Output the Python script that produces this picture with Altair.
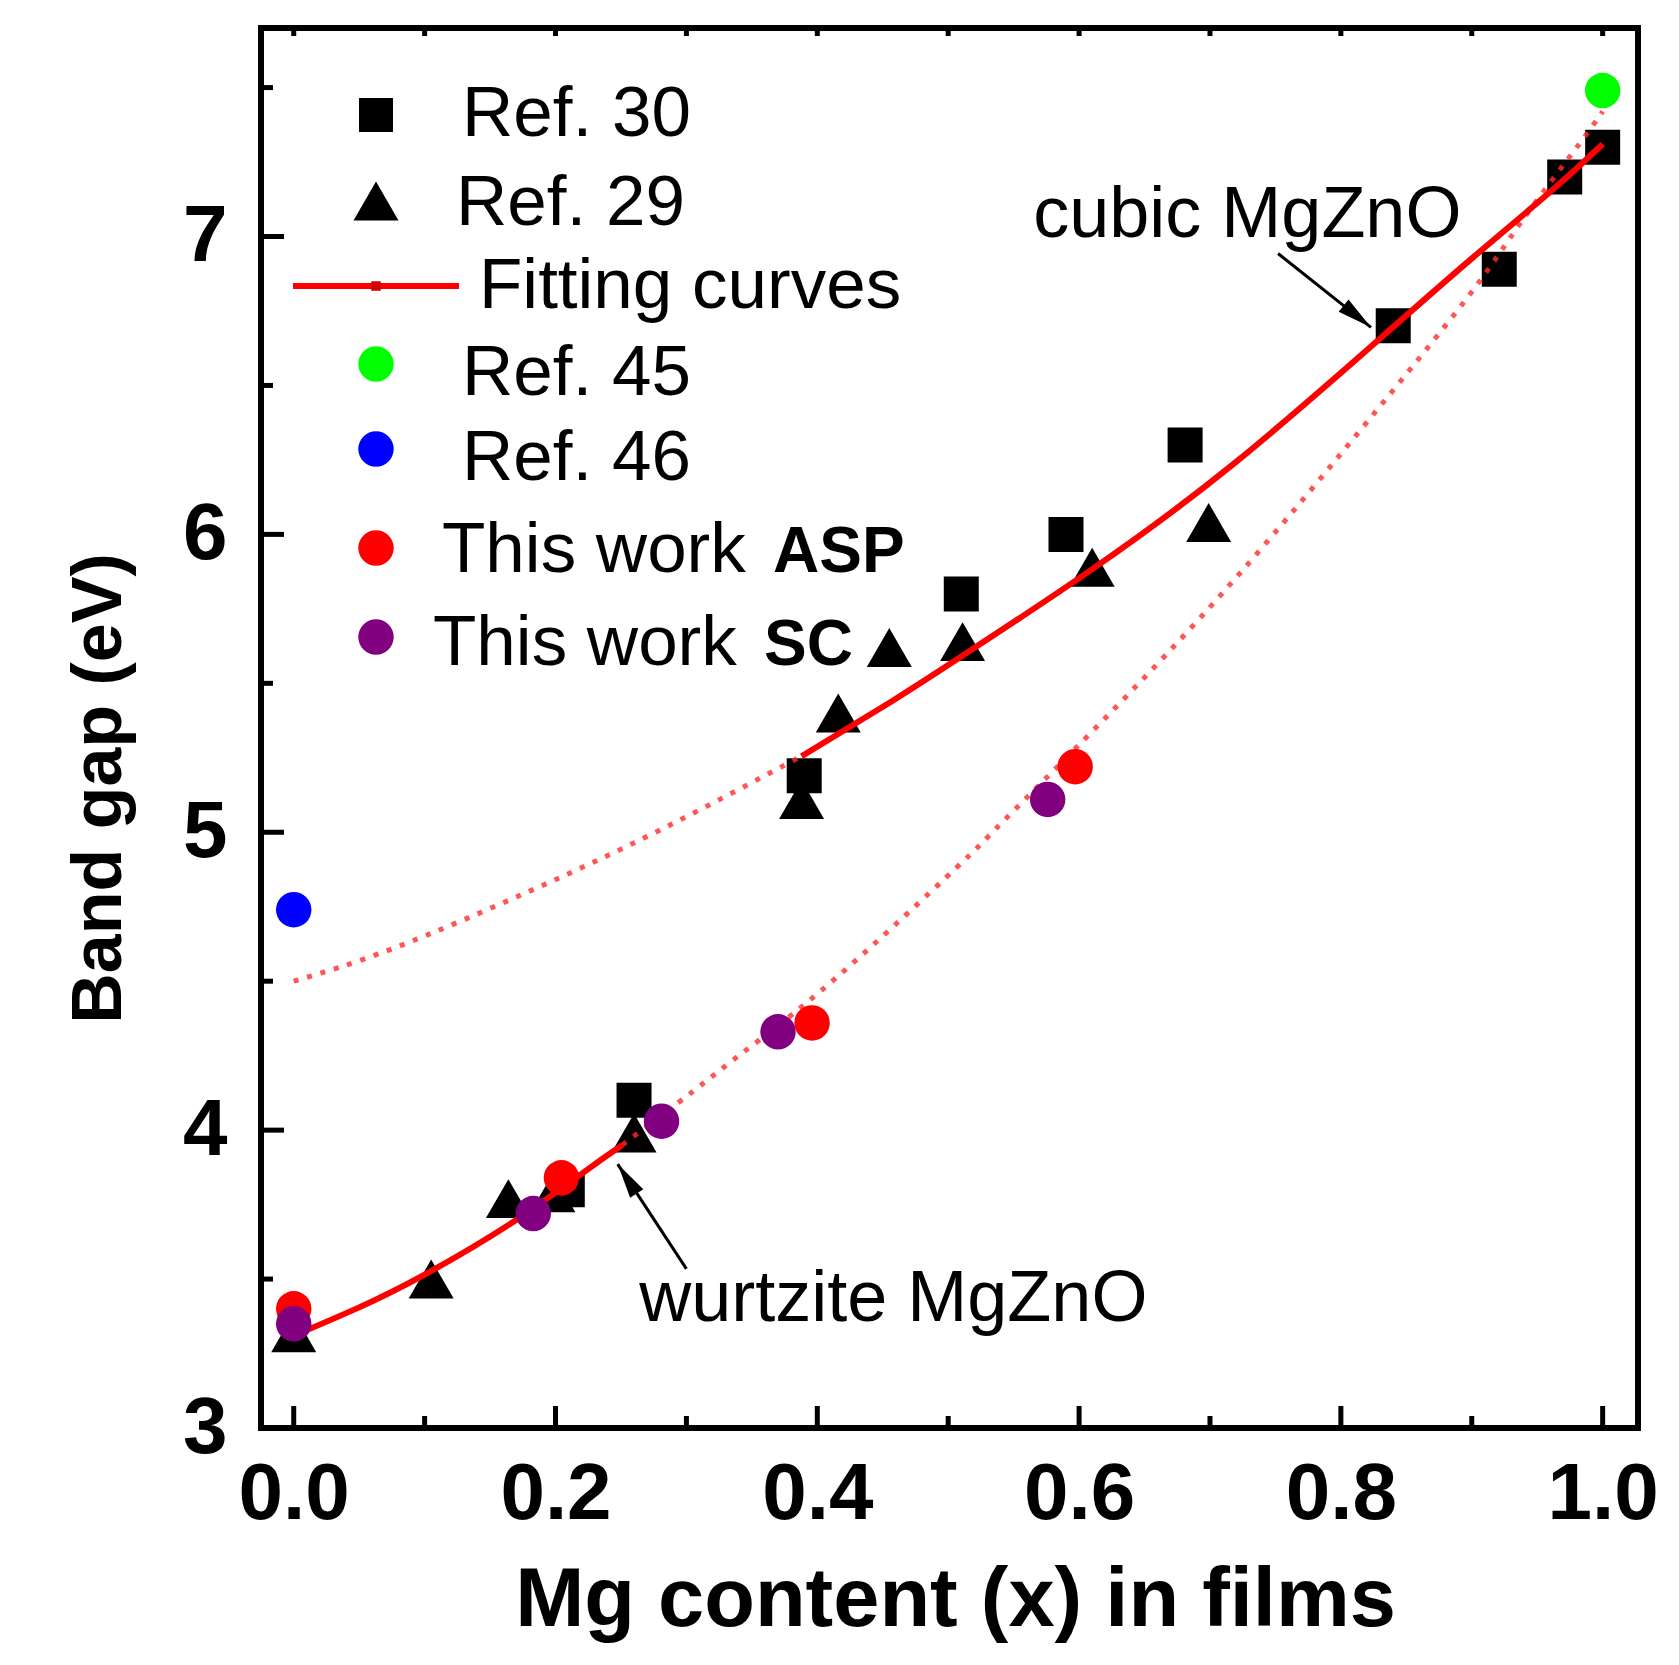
import altair as alt
import pandas as pd

# ---------------- data ----------------
ref30_x = [0.209, 0.26, 0.39, 0.51, 0.59, 0.681, 0.84, 0.921, 0.971, 1.0]
ref30_y = [3.80, 4.10, 5.19, 5.80, 6.00, 6.30, 6.70, 6.89, 7.20, 7.30]

ref29_x = [0.0, 0.105, 0.164, 0.198, 0.26, 0.388, 0.416, 0.455, 0.511, 0.610, 0.699]
ref29_y = [3.32, 3.50, 3.77, 3.79, 3.99, 5.11, 5.40, 5.62, 5.64, 5.89, 6.04]

ref45_x = [1.0]
ref45_y = [7.49]
ref46_x = [0.0]
ref46_y = [4.74]

asp_x = [0.0, 0.2045, 0.396, 0.597]
asp_y = [3.40, 3.84, 4.36, 5.22]
sc_x = [0.0, 0.183, 0.281, 0.370, 0.576]
sc_y = [3.35, 3.72, 4.03, 4.33, 5.11]

wurtz_solid_x = [0.0, 0.05, 0.10, 0.167, 0.222, 0.251]
wurtz_solid_y = [3.31, 3.405, 3.515, 3.69, 3.86, 3.95]
wurtz_dot_x = [0.251, 0.305, 0.343, 0.414, 0.506, 0.536, 0.617, 0.719, 0.828, 0.901, 0.938, 0.982, 1.0]
wurtz_dot_y = [3.95, 4.13, 4.26, 4.51, 4.88, 5.01, 5.37, 5.85, 6.42, 6.82, 7.05, 7.31, 7.42]

cubic_dot_x = [0.0, 0.076, 0.179, 0.281, 0.377, 0.388]
cubic_dot_y = [4.50, 4.61, 4.80, 5.01, 5.23, 5.255]
cubic_solid_x = [0.388, 0.457, 0.51, 0.609, 0.719, 0.828, 0.901, 0.96, 1.0]
cubic_solid_y = [5.255, 5.44, 5.59, 5.88, 6.24, 6.65, 6.93, 7.15, 7.31]

x_major = [0.0, 0.2, 0.4, 0.6, 0.8, 1.0]
x_minor = [0.1, 0.3, 0.5, 0.7, 0.9]
x_top = [0.0, 0.1, 0.2, 0.3, 0.4, 0.5, 0.6, 0.7, 0.8, 0.9, 1.0]
y_major = [3, 4, 5, 6, 7]
y_minor = [3.5, 4.5, 5.5, 6.5, 7.5]

legend_labels = ["Ref. 30", "Ref. 29", "Fitting curves", "Ref. 45", "Ref. 46", "This work", "This work"]
legend_bold = ["ASP", "SC"]

ann_cubic = {"x": [0.565], "y": [6.998], "t": ["cubic MgZnO"]}
ann_wurtz = {"x": [0.264], "y": [3.359], "t": ["wurtzite MgZnO"]}
arrow_cubic = {"x1": [0.752], "y1": [6.943], "x2": [0.823], "y2": [6.695]}
arrow_wurtz = {"x1": [0.300], "y1": [3.534], "x2": [0.2475], "y2": [3.886]}

# ---------------- layout ----------------
W, H = 1377, 1400
FONT = "Liberation Sans, Arial, sans-serif"
xs = alt.Scale(domain=[-0.025, 1.027], nice=False, zero=False)
ys = alt.Scale(domain=[3.0, 7.7], nice=False, zero=False)

x_axis = alt.Axis(values=x_major, format=".1f", domain=False, ticks=False, grid=False,
                  labelFont=FONT, labelFontSize=80, labelFontWeight="bold", labelColor="black",
                  labelPadding=27, labelFlush=False, labelOverlap=False,
                  title="Mg content (x) in films", titleFont=FONT, titleFontSize=83,
                  titleFontWeight="bold", titleColor="black", titleX=694, titleY=197,
                  titleBaseline="alphabetic", titleAlign="center")
y_axis = alt.Axis(values=y_major, format="d", domain=False, ticks=False, grid=False,
                  labelFont=FONT, labelFontSize=80, labelFontWeight="bold", labelColor="black",
                  labelPadding=34, labelFlush=False, labelOverlap=False,
                  title="Band gap (eV)", titleFont=FONT,
                  titleFontSize=70, titleFontWeight="bold", titleColor="black", titleAngle=270,
                  titleX=-141, titleY=760, titleBaseline="alphabetic", titleAlign="center")


def X(field):
    return alt.X(field, scale=xs, axis=x_axis)


def Y(field):
    return alt.Y(field, scale=ys, axis=y_axis)


def pts(xv, yv, **mk):
    df = pd.DataFrame({"x": xv, "y": yv})
    return alt.Chart(df).mark_point(filled=True, opacity=1, strokeWidth=0, **mk).encode(
        x=X("x:Q"), y=Y("y:Q"))


def curve(xv, yv, **mk):
    df = pd.DataFrame({"x": xv, "y": yv})
    return alt.Chart(df).mark_line(interpolate="natural", **mk).encode(x=X("x:Q"), y=Y("y:Q"))


one = pd.DataFrame({"a": [0]})

squares = pts(ref30_x, ref30_y, shape="square", size=1225, color="black")
triangles = pts(ref29_x, ref29_y, shape="triangle-up", size=2025, color="black")

dot_style = dict(color="#ff2a2a", strokeWidth=5, strokeDash=[5, 9], opacity=0.8, strokeCap="butt")
lines = [
    curve(wurtz_solid_x, wurtz_solid_y, color="#ff0000", strokeWidth=6),
    curve(wurtz_dot_x, wurtz_dot_y, **dot_style),
    curve(cubic_dot_x, cubic_dot_y, **dot_style),
    curve(cubic_solid_x, cubic_solid_y, color="#ff0000", strokeWidth=6),
]

head_path = "M0,0L0.45,2L-0.45,2Z"


def arrow(d, ang):
    df = pd.DataFrame(d)
    shaft = alt.Chart(df).mark_rule(color="black", strokeWidth=3).encode(
        x=X("x1:Q"), y=Y("y1:Q"), x2="x2:Q", y2="y2:Q")
    head = alt.Chart(df).mark_point(shape=head_path, filled=True, color="black", opacity=1,
                                    size=1225, angle=ang, strokeWidth=0).encode(
        x=X("x2:Q"), y=Y("y2:Q"))
    return [shaft, head]


def ann(d):
    df = pd.DataFrame(d)
    return alt.Chart(df).mark_text(align="left", baseline="alphabetic", font=FONT,
                                   fontSize=72, color="black").encode(
        x=X("x:Q"), y=Y("y:Q"), text="t:N")


circles = [
    pts(ref45_x, ref45_y, shape="circle", size=1257, color="#00ff00"),
    pts(ref46_x, ref46_y, shape="circle", size=1257, color="#0000ff"),
    pts(asp_x, asp_y, shape="circle", size=1257, color="#ff0000"),
    pts(sc_x, sc_y, shape="circle", size=1257, color="#800080"),
]

# ---------------- legend (inside, top-left) ----------------
LX = 115
LFS = 71
leg = []


def leg_mark(shape, size, color, yy):
    return alt.Chart(one).mark_point(shape=shape, size=size, color=color, filled=True,
                                     opacity=1, strokeWidth=0).encode(
        x=alt.value(LX), y=alt.value(yy))


def leg_text(txt, xx, yy, bold=False, size=LFS):
    return alt.Chart(one).mark_text(text=txt, align="left", baseline="alphabetic", font=FONT,
                                    fontSize=size, fontWeight="bold" if bold else "normal",
                                    color="black").encode(x=alt.value(xx), y=alt.value(yy))


leg += [leg_mark("square", 1156, "black", 87), leg_text(legend_labels[0], 201, 108)]
leg += [leg_mark("triangle-up", 2025, "black", 173), leg_text(legend_labels[1], 195, 197)]
leg += [alt.Chart(one).mark_rule(color="#ff0000", strokeWidth=6).encode(
            x=alt.value(32), x2=alt.value(198), y=alt.value(258)),
        leg_mark("square", 90, "#d00000", 258), leg_text(legend_labels[2], 218, 280)]
leg += [leg_mark("circle", 1257, "#00ff00", 336), leg_text(legend_labels[3], 201, 367)]
leg += [leg_mark("circle", 1257, "#0000ff", 421), leg_text(legend_labels[4], 201, 452)]
leg += [leg_mark("circle", 1257, "#ff0000", 520), leg_text(legend_labels[5], 181, 544),
        leg_text(legend_bold[0], 512, 544, bold=True, size=64)]
leg += [leg_mark("circle", 1257, "#800080", 609), leg_text(legend_labels[6], 172, 637),
        leg_text(legend_bold[1], 503, 637, bold=True, size=64)]

# ---------------- inward ticks ----------------


def xticks(vals, y0, y1):
    df = pd.DataFrame({"t": vals})
    return alt.Chart(df).mark_rule(color="black", strokeWidth=5).encode(
        x=X("t:Q"), y=alt.value(y0), y2=alt.value(y1))


def yticks(vals, x0, x1):
    df = pd.DataFrame({"t": vals})
    return alt.Chart(df).mark_rule(color="black", strokeWidth=5).encode(
        y=Y("t:Q"), x=alt.value(x0), x2=alt.value(x1))


ticks = [
    xticks(x_major, H, H - 22),
    xticks(x_minor, H, H - 12),
    xticks(x_top, 0, 8),
    yticks(y_major, 0, 23),
    yticks(y_minor, 0, 12),
]

layers = [squares, triangles] + lines + arrow(arrow_cubic, 128.5) + arrow(arrow_wurtz, 327) \
    + [ann(ann_cubic), ann(ann_wurtz)] + circles + leg + ticks

chart = alt.layer(*layers).properties(
    width=W, height=H,
    autosize=alt.AutoSizeParams(type="none"),
    padding={"left": 253, "top": 20, "right": 33, "bottom": 230},
).configure(background="white").configure_view(stroke="black", strokeWidth=6)

chart.save("out.html", embed_options={"renderer": "svg", "actions": False})
